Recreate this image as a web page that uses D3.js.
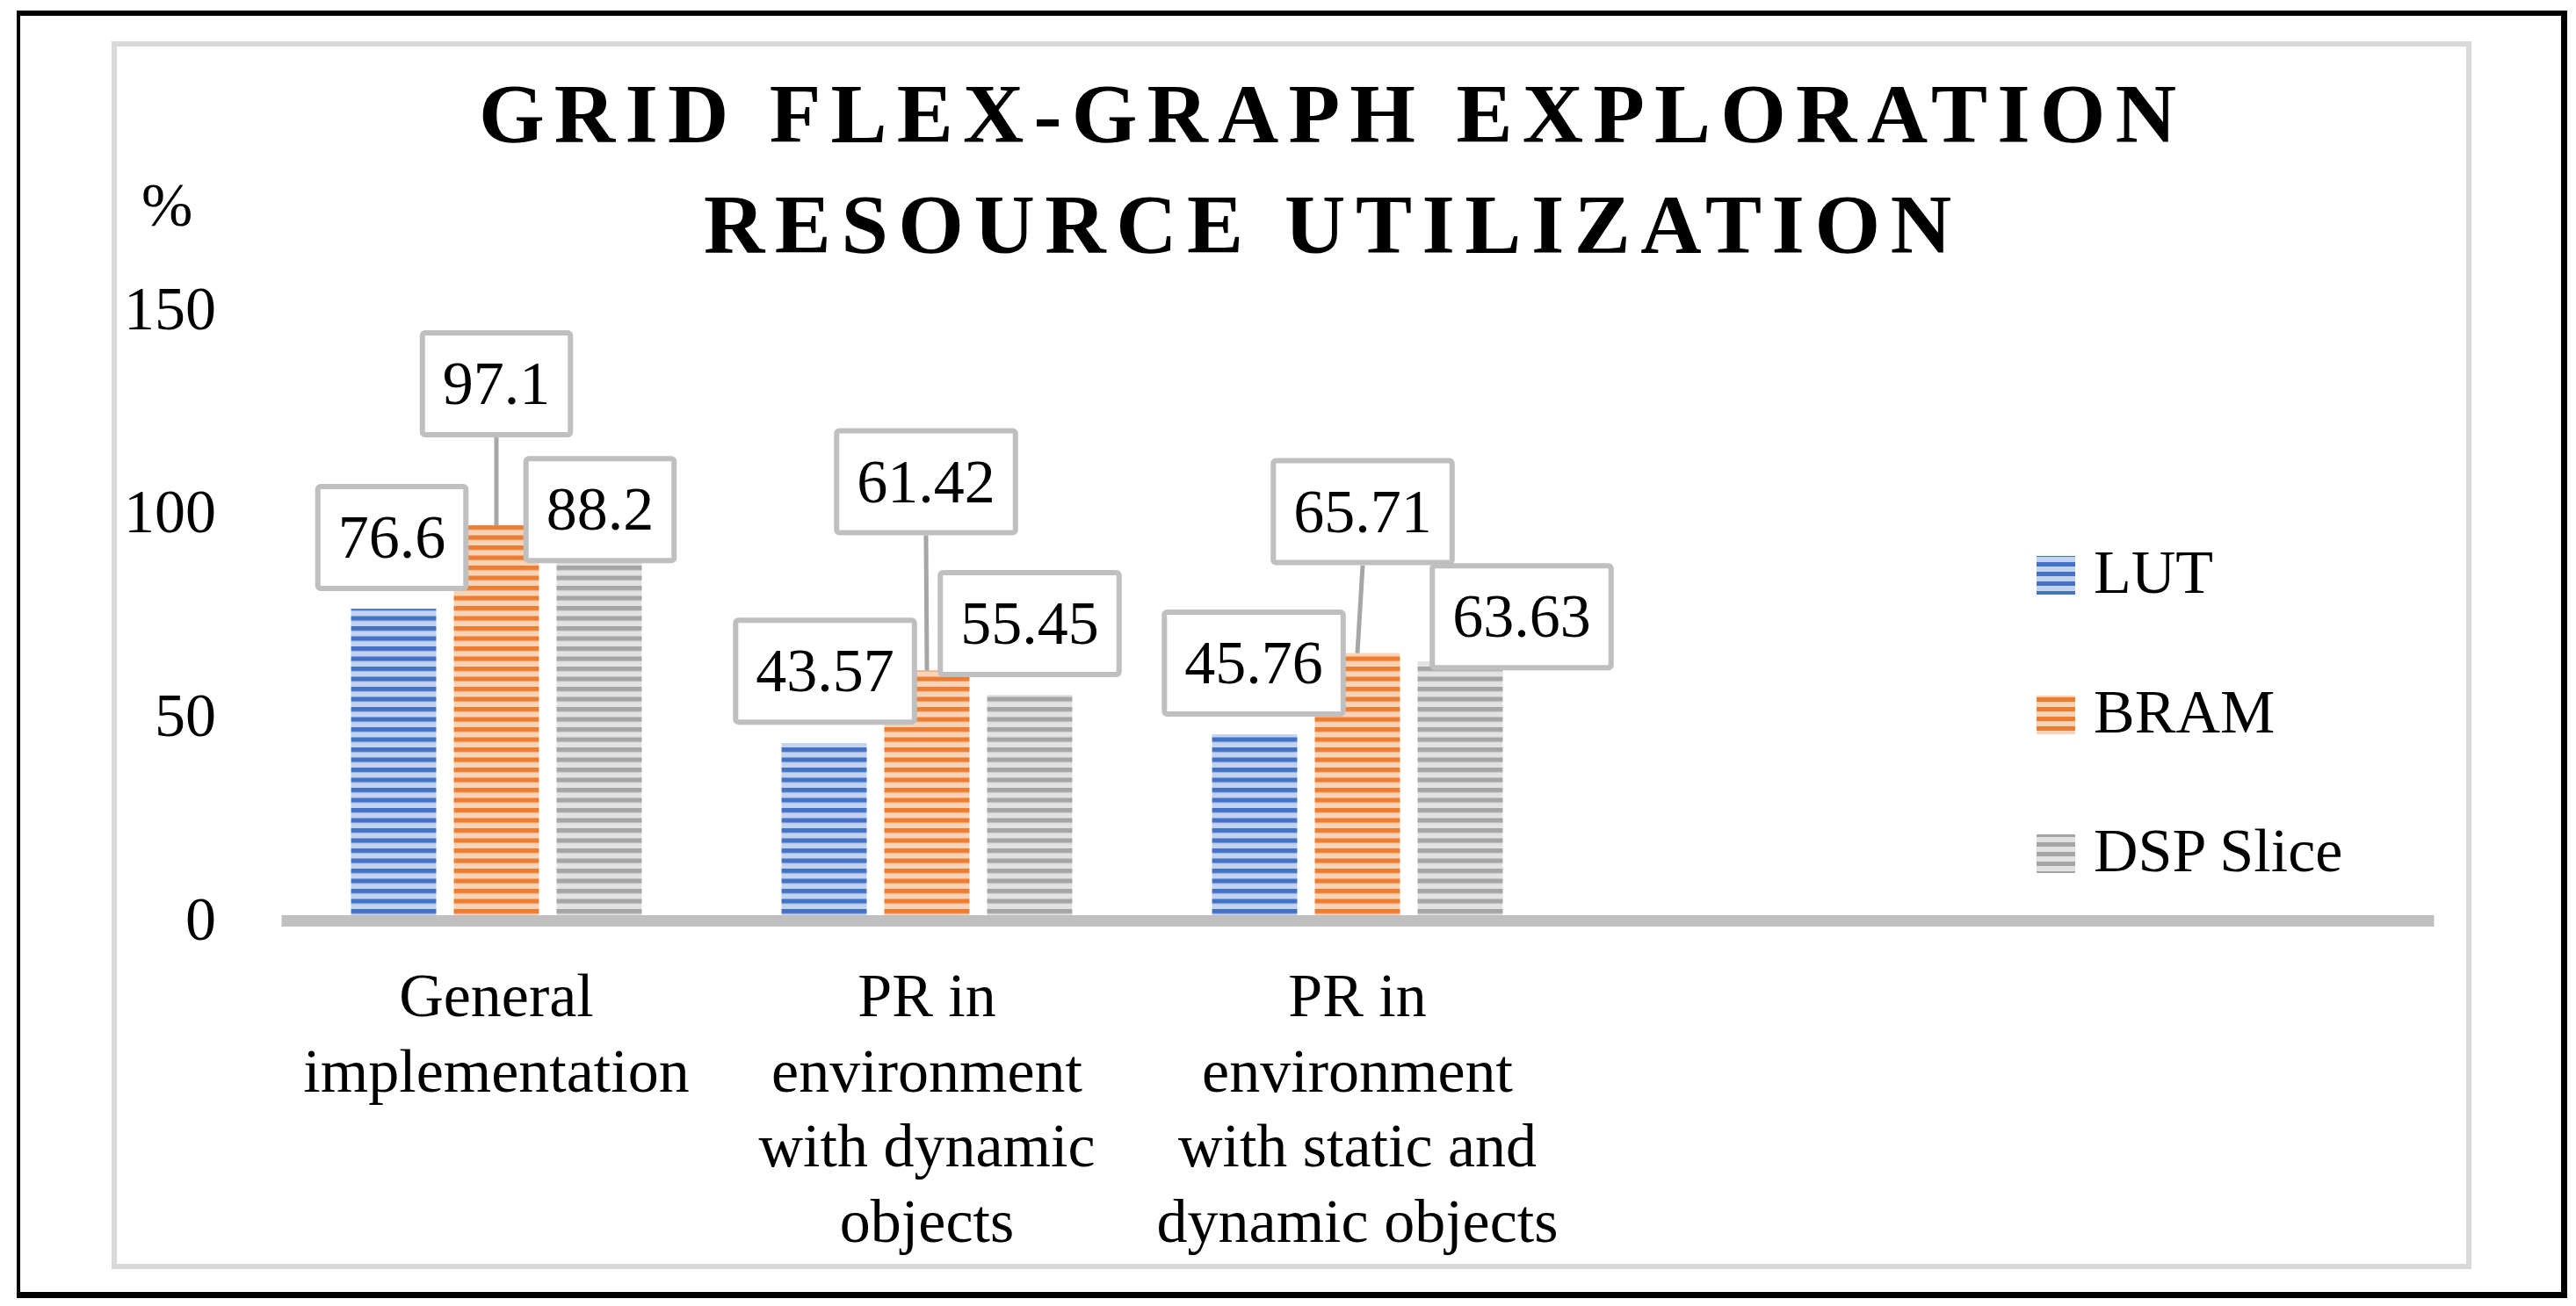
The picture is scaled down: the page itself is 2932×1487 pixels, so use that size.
<!DOCTYPE html>
<html>
<head>
<meta charset="utf-8">
<script src="https://cdn.jsdelivr.net/npm/d3@7"></script>
<style>
  html, body { margin: 0; padding: 0; background: #ffffff; }
  svg { display: block; }
</style>
</head>
<body>
<script>
// ---------- data ----------
const categories = [
  "General\nimplementation",
  "PR in\nenvironment\nwith dynamic\nobjects",
  "PR in\nenvironment\nwith static and\ndynamic objects",
  "",
  ""
];
const seriesNames = ["LUT", "BRAM", "DSP Slice"];
const lutValues  = [76.6, 43.57, 45.76];
const bramValues = [97.1, 61.42, 65.71];
const dspValues  = [88.2, 55.45, 63.63];
const yTickValues = [0, 50, 100, 150];
const titleLines = ["GRID FLEX-GRAPH EXPLORATION", "RESOURCE UTILIZATION"];
const yUnitLabel = "%";

// ---------- layout / style (not data) ----------
const W = 2932, H = 1487;
const FONT = "'Liberation Serif', 'Times New Roman', serif";
const seriesStyle = [
  { dark: "#4472C4", light: "#C3D2EE" },
  { dark: "#ED7D31", light: "#F9D3B8" },
  { dark: "#A5A5A5", light: "#E2E2E2" }
];
// manual data-label box centre offsets [dx, dy] from bar-top centre (series x category)
const labelOffsets = [
  [[-2, -81], [1, -82], [-1, -81]],
  [[0, -161], [-1, -215], [6, -161]],
  [[1, -59], [0, -81], [70, -51]]
];

const seriesValues = [lutValues, bramValues, dspValues];

const svg = d3.select("body").append("svg")
  .attr("width", W).attr("height", H)
  .attr("viewBox", `0 0 ${W} ${H}`);

svg.append("rect").attr("x", 0).attr("y", 0).attr("width", W).attr("height", H).attr("fill", "#fff");

// patterns
const defs = svg.append("defs");
seriesStyle.forEach((s, i) => {
  const p = defs.append("pattern")
    .attr("id", "pat" + i)
    .attr("patternUnits", "userSpaceOnUse")
    .attr("width", 20).attr("height", 11.5);
  p.append("rect").attr("width", 20).attr("height", 11.5).attr("fill", s.dark);
  p.append("rect").attr("y", 5.2).attr("width", 20).attr("height", 6.3).attr("fill", s.light);
  const lp = defs.append("pattern")
    .attr("id", "lpat" + i)
    .attr("patternUnits", "userSpaceOnUse")
    .attr("width", 20).attr("height", 11)
    .attr("y", 2);
  lp.append("rect").attr("width", 20).attr("height", 11).attr("fill", s.dark);
  lp.append("rect").attr("y", 5).attr("width", 20).attr("height", 6).attr("fill", s.light);
});

// outer black frame
svg.append("rect").attr("x", 19).attr("y", 12).attr("width", 2922 - 19).attr("height", 6).attr("fill", "#000");
svg.append("rect").attr("x", 19).attr("y", 1471).attr("width", 2922 - 19).attr("height", 7).attr("fill", "#000");
svg.append("rect").attr("x", 19).attr("y", 12).attr("width", 4).attr("height", 1478 - 12).attr("fill", "#000");
svg.append("rect").attr("x", 2915).attr("y", 12).attr("width", 7).attr("height", 1478 - 12).attr("fill", "#000");

// chart area light border
svg.append("rect")
  .attr("x", 130).attr("y", 50).attr("width", 2810 - 130).attr("height", 1442 - 50)
  .attr("fill", "none").attr("stroke", "#D9D9D9").attr("stroke-width", 6);

// title
const titleBaselines = [162, 288];
const titleWidths = [1932, 1420];
titleLines.forEach((t, i) => {
  svg.append("text")
    .attr("x", 1511).attr("y", titleBaselines[i])
    .attr("text-anchor", "middle")
    .attr("font-family", FONT).attr("font-weight", "bold")
    .attr("font-size", 96)
    .attr("textLength", titleWidths[i])
    .attr("lengthAdjust", "spacing")
    .attr("fill", "#000")
    .text(t);
});

// scales
const x0 = d3.scaleBand().domain(d3.range(categories.length)).range([320, 2770]).padding(0);
const x1 = d3.scaleBand().domain(d3.range(seriesNames.length)).range([0, x0.bandwidth()])
  .paddingInner(0.171).paddingOuter(0.68);
const y = d3.scaleLinear().domain([0, 150]).range([1048, 353]);

// y unit label
svg.append("text")
  .attr("x", 161).attr("y", 257)
  .attr("font-family", FONT).attr("font-size", 70).attr("fill", "#000")
  .text(yUnitLabel);

// y axis
const yAxis = svg.append("g")
  .attr("transform", "translate(246,0)")
  .call(d3.axisLeft(y).tickValues(yTickValues).tickSize(0).tickPadding(0).tickFormat(d3.format("d")));
yAxis.select(".domain").remove();
yAxis.selectAll("text")
  .attr("font-family", FONT).attr("font-size", 70).attr("fill", "#000")
  .attr("y", -2).attr("dy", "0.33em");

// bars
const barsG = svg.append("g");
seriesValues.forEach((vals, si) => {
  barsG.selectAll(".bar" + si)
    .data(vals)
    .join("rect")
    .attr("class", "bar" + si)
    .attr("x", (d, ci) => x0(ci) + x1(si))
    .attr("y", d => y(d))
    .attr("width", x1.bandwidth())
    .attr("height", d => y(0) - y(d))
    .attr("fill", `url(#pat${si})`);
});

// x axis
const xAxis = svg.append("g")
  .attr("transform", `translate(0,${y(0)})`)
  .call(d3.axisBottom(x0).tickSize(0).tickSizeOuter(0).tickFormat(i => categories[i]));
xAxis.select(".domain").attr("stroke", "#BFBFBF").attr("stroke-width", 13);
xAxis.selectAll(".tick text").each(function (i) {
  const t = d3.select(this);
  const lines = categories[i] ? categories[i].split("\n") : [];
  t.text(null)
    .attr("font-family", FONT).attr("font-size", 70).attr("fill", "#000")
    .attr("y", 0).attr("dy", null);
  lines.forEach((ln, k) => {
    t.append("tspan").attr("x", 0).attr("y", 109 + k * 85.5).text(ln);
  });
});

// data labels
const labelsG = svg.append("g");
seriesValues.forEach((vals, si) => {
  vals.forEach((v, ci) => {
    const bx = x0(ci) + x1(si) + x1.bandwidth() / 2;
    const by = y(v);
    const [dx, dy] = labelOffsets[si][ci];
    const cx = bx + dx, cy = by + dy;
    const g = labelsG.append("g");
    const boxH = 116;
    // leader line
    if (by - (cy + boxH / 2 + 3) > 40) {
      g.append("line")
        .attr("x1", cx).attr("y1", cy + boxH / 2 + 3)
        .attr("x2", bx).attr("y2", by)
        .attr("stroke", "#A6A6A6").attr("stroke-width", 5);
    }
    const rect = g.append("rect");
    const txt = g.append("text")
      .attr("x", cx).attr("y", cy).attr("dy", "0.33em")
      .attr("text-anchor", "middle")
      .attr("font-family", FONT).attr("font-size", 70).attr("fill", "#000")
      .text(String(v));
    const tw = txt.node().getComputedTextLength();
    const bw = tw + 46;
    rect.attr("x", cx - bw / 2).attr("y", cy - boxH / 2)
      .attr("width", bw).attr("height", boxH)
      .attr("rx", 3)
      .attr("fill", "#fff").attr("stroke", "#BFBFBF").attr("stroke-width", 6);
  });
});

// legend
const legendTops = [633, 792, 950];
const legend = svg.append("g");
seriesNames.forEach((name, si) => {
  legend.append("rect")
    .attr("x", 2318).attr("y", legendTops[si])
    .attr("width", 44).attr("height", 44)
    .attr("fill", `url(#lpat${si})`);
  legend.append("text")
    .attr("x", 2383).attr("y", legendTops[si] + 42)
    .attr("font-family", FONT).attr("font-size", 70).attr("fill", "#000")
    .text(name);
});
</script>
</body>
</html>
